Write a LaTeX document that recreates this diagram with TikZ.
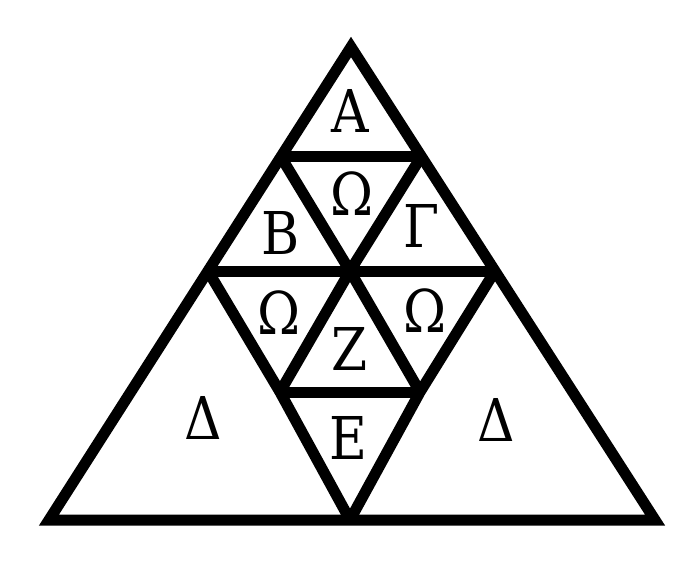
\documentclass[tikz,border=0pt]{standalone}
\usepackage{fontspec}
\setmainfont[FakeStretch=0.88]{DejaVu Serif}
\begin{document}
\begin{tikzpicture}[x=1pt,y=-1pt,
  edge/.style={line width=11pt,line join=miter,black},
  lbl/.style={inner sep=0pt,font=\fontsize{59}{61}\selectfont}]
\useasboundingbox[fill=white] (0,0) rectangle (696,564);
% vertices
\coordinate (apex) at (351,47);
\coordinate (bl) at (49,520);
\coordinate (br) at (655,520);
\coordinate (bm) at (350,520);
\coordinate (tl) at (281,157);
\coordinate (tr) at (421,157);
\coordinate (ml) at (208,271);
\coordinate (mr) at (495,271);
\coordinate (c) at (350,271);
\coordinate (ll) at (280,392);
\coordinate (lr) at (420,392);
% lines
\draw[edge] (apex) -- (bl) -- (br) -- cycle;
\draw[edge] (tl) -- (tr);
\draw[edge] (ml) -- (mr);
\draw[edge] (ll) -- (lr);
\draw[edge] (tl) -- (c) -- (lr);
\draw[edge] (tr) -- (c) -- (ll);
\draw[edge] (ml) -- (ll) -- (bm);
\draw[edge] (mr) -- (lr) -- (bm);
% labels
\node[lbl] (a) at (350,111) {Α};
\node[lbl] (o1) at (352,194) {Ω};
\node[lbl] (b) at (281,233) {Β};
\node[lbl] (g) at (422,226) {Γ};
\node[lbl] (o2) at (279,313) {Ω};
\node[lbl] (o3) at (425,311) {Ω};
\node[lbl] (z) at (350,349) {Ζ};
\node[lbl] (e) at (348,438) {Ε};
\node[lbl] (d1) at (203,418) {Δ};
\node[lbl] (d2) at (496,420) {Δ};
\end{tikzpicture}
\end{document}
